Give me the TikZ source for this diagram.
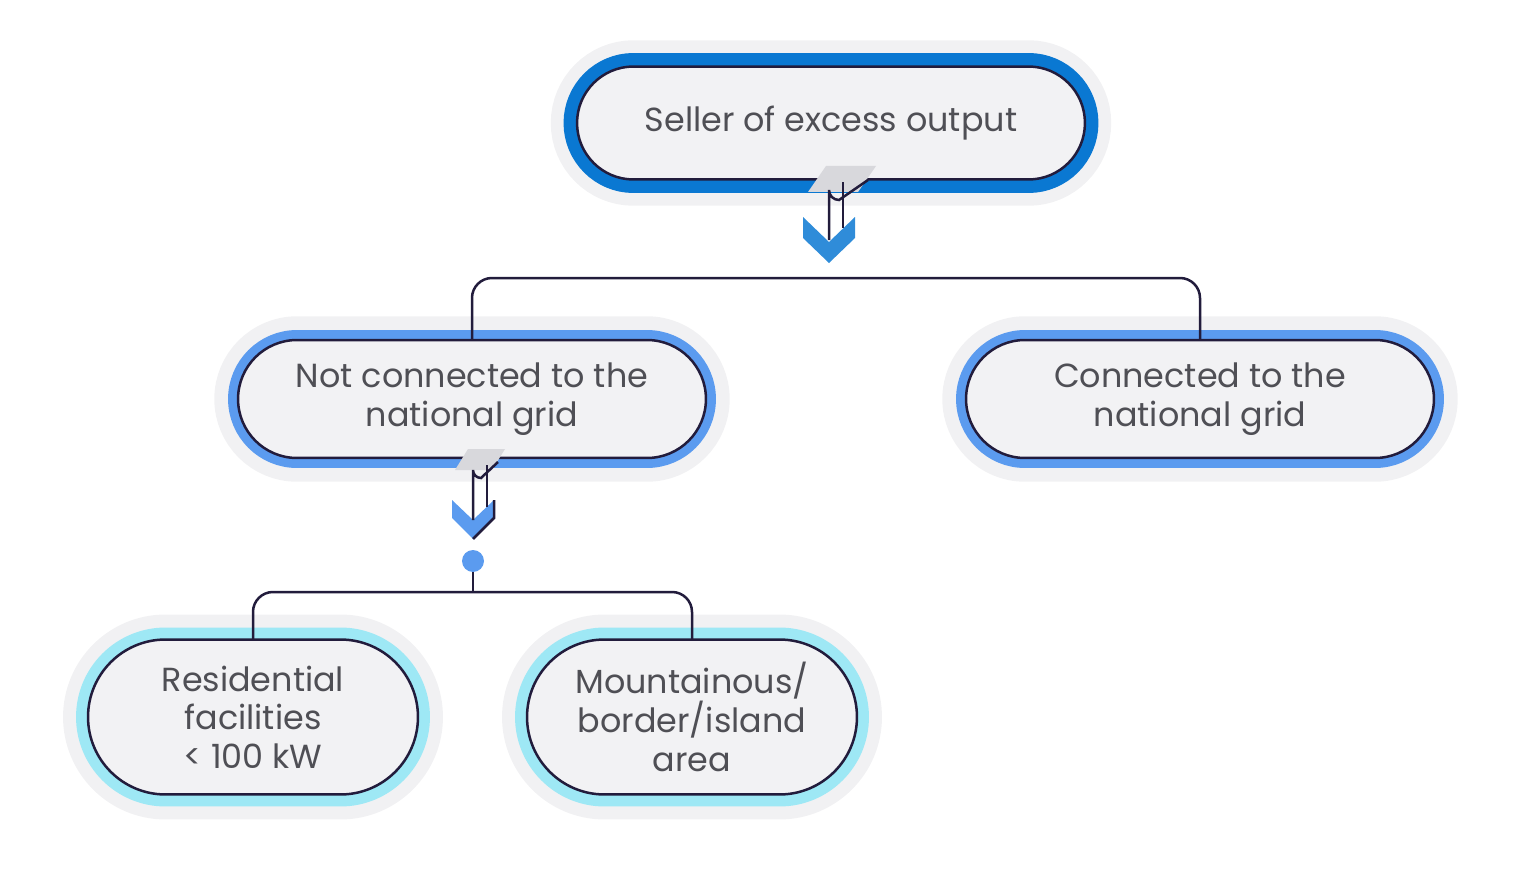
\documentclass[tikz,border=0pt]{standalone}
\usepackage{fontspec}
\setmainfont{Poppins}
\usetikzlibrary{shapes.misc}
\definecolor{ink}{HTML}{221C3C}
\definecolor{txt}{HTML}{4F4F55}
\definecolor{halo}{HTML}{F1F1F3}
\definecolor{gap}{HTML}{D8D8DC}
\definecolor{topblue}{HTML}{0A78D2}
\definecolor{midblue}{HTML}{5B9BEF}
\definecolor{lowcyan}{HTML}{9EE8F5}
\definecolor{inner}{HTML}{F2F2F4}
\tikzset{
  link/.style={draw=ink, line width=0.05cm, rounded corners=0.4cm},
}
\begin{document}
\begin{tikzpicture}[x=0.02cm, y=-0.02cm]
  \useasboundingbox (0,0) rectangle (1536,875);

  % boxes
  \node[rounded rectangle, inner sep=0pt, align=center, text=txt, font=\fontsize{19}{22}\selectfont, fill=inner,
    preaction={draw=halo, line width=1.05cm}, preaction={draw=topblue, line width=0.54cm},
    postaction={draw=ink, line width=0.05cm}, minimum width=10.16cm, minimum height=2.26cm] (seller) at (831,123) {Seller of excess output};
  \node[rounded rectangle, inner sep=0pt, align=center, text=txt, font=\fontsize{19}{22}\selectfont, fill=inner,
    preaction={draw=halo, line width=0.95cm}, preaction={draw=midblue, line width=0.4cm},
    postaction={draw=ink, line width=0.05cm}, minimum width=9.36cm, minimum height=2.36cm] (offgrid) at (472,399) {Not connected to the\\national grid};
  \node[rounded rectangle, inner sep=0pt, align=center, text=txt, font=\fontsize{19}{22}\selectfont, fill=inner,
    preaction={draw=halo, line width=0.95cm}, preaction={draw=midblue, line width=0.4cm},
    postaction={draw=ink, line width=0.05cm}, minimum width=9.36cm, minimum height=2.36cm] (ongrid) at (1200,399) {Connected to the\\national grid};
  \node[rounded rectangle, inner sep=0pt, align=center, text=txt, font=\fontsize{19}{22}\selectfont, fill=inner,
    preaction={draw=halo, line width=1.0cm}, preaction={draw=lowcyan, line width=0.48cm},
    postaction={draw=ink, line width=0.05cm}, minimum width=6.6cm, minimum height=3.1cm] (home) at (253,717) {Residential\\facilities\\< 100 kW};
  \node[rounded rectangle, inner sep=0pt, align=center, text=txt, font=\fontsize{19}{22}\selectfont, fill=inner,
    preaction={draw=halo, line width=1.0cm}, preaction={draw=lowcyan, line width=0.48cm},
    postaction={draw=ink, line width=0.05cm}, minimum width=6.6cm, minimum height=3.1cm] (remote) at (692,717) {Mountainous/\\border/island\\area};

  % arrow under seller
  \fill[gap] (826,166) -- (876,166) -- (858,192) -- (808,192) -- cycle;
  \fill[topblue!85!white] (803,217) -- (829,242) -- (855,217) -- (855,238) -- (829,263) -- (803,238) -- cycle;
  \draw[ink, line width=0.05cm] (829,240) -- (829,190) arc[start angle=180, end angle=90, radius=10] -- (868,180);
  \draw[ink, line width=0.05cm] (843,228) -- (843,182);

  % arrow under offgrid
  \fill[gap] (468,449) -- (505,449) -- (492,470) -- (455,470) -- cycle;
  \fill[midblue] (452,500) -- (473,520) -- (494,500) -- (494,518) -- (473,539) -- (452,518) -- cycle;
  \draw[ink, line width=0.05cm] (473,520) -- (473,470) arc[start angle=180, end angle=90, radius=8] -- (498,462);
  \draw[ink, line width=0.05cm] (487,507) -- (487,465);
  \draw[ink, line width=0.05cm] (473,539) -- (494,518) -- (494,500);

  \node[circle, fill=midblue, minimum size=0.44cm, inner sep=0pt] (dot) at (473,561) {};

  % connectors
  \coordinate (split) at (472,278);
  \draw[link] (offgrid.north) -- (split) -| (ongrid.north);
  \coordinate (fork) at (473,592);
  \draw[link] (dot.south) -- (fork);
  \draw[link] (home.north) |- (fork) -| (remote.north);
\end{tikzpicture}
\end{document}
